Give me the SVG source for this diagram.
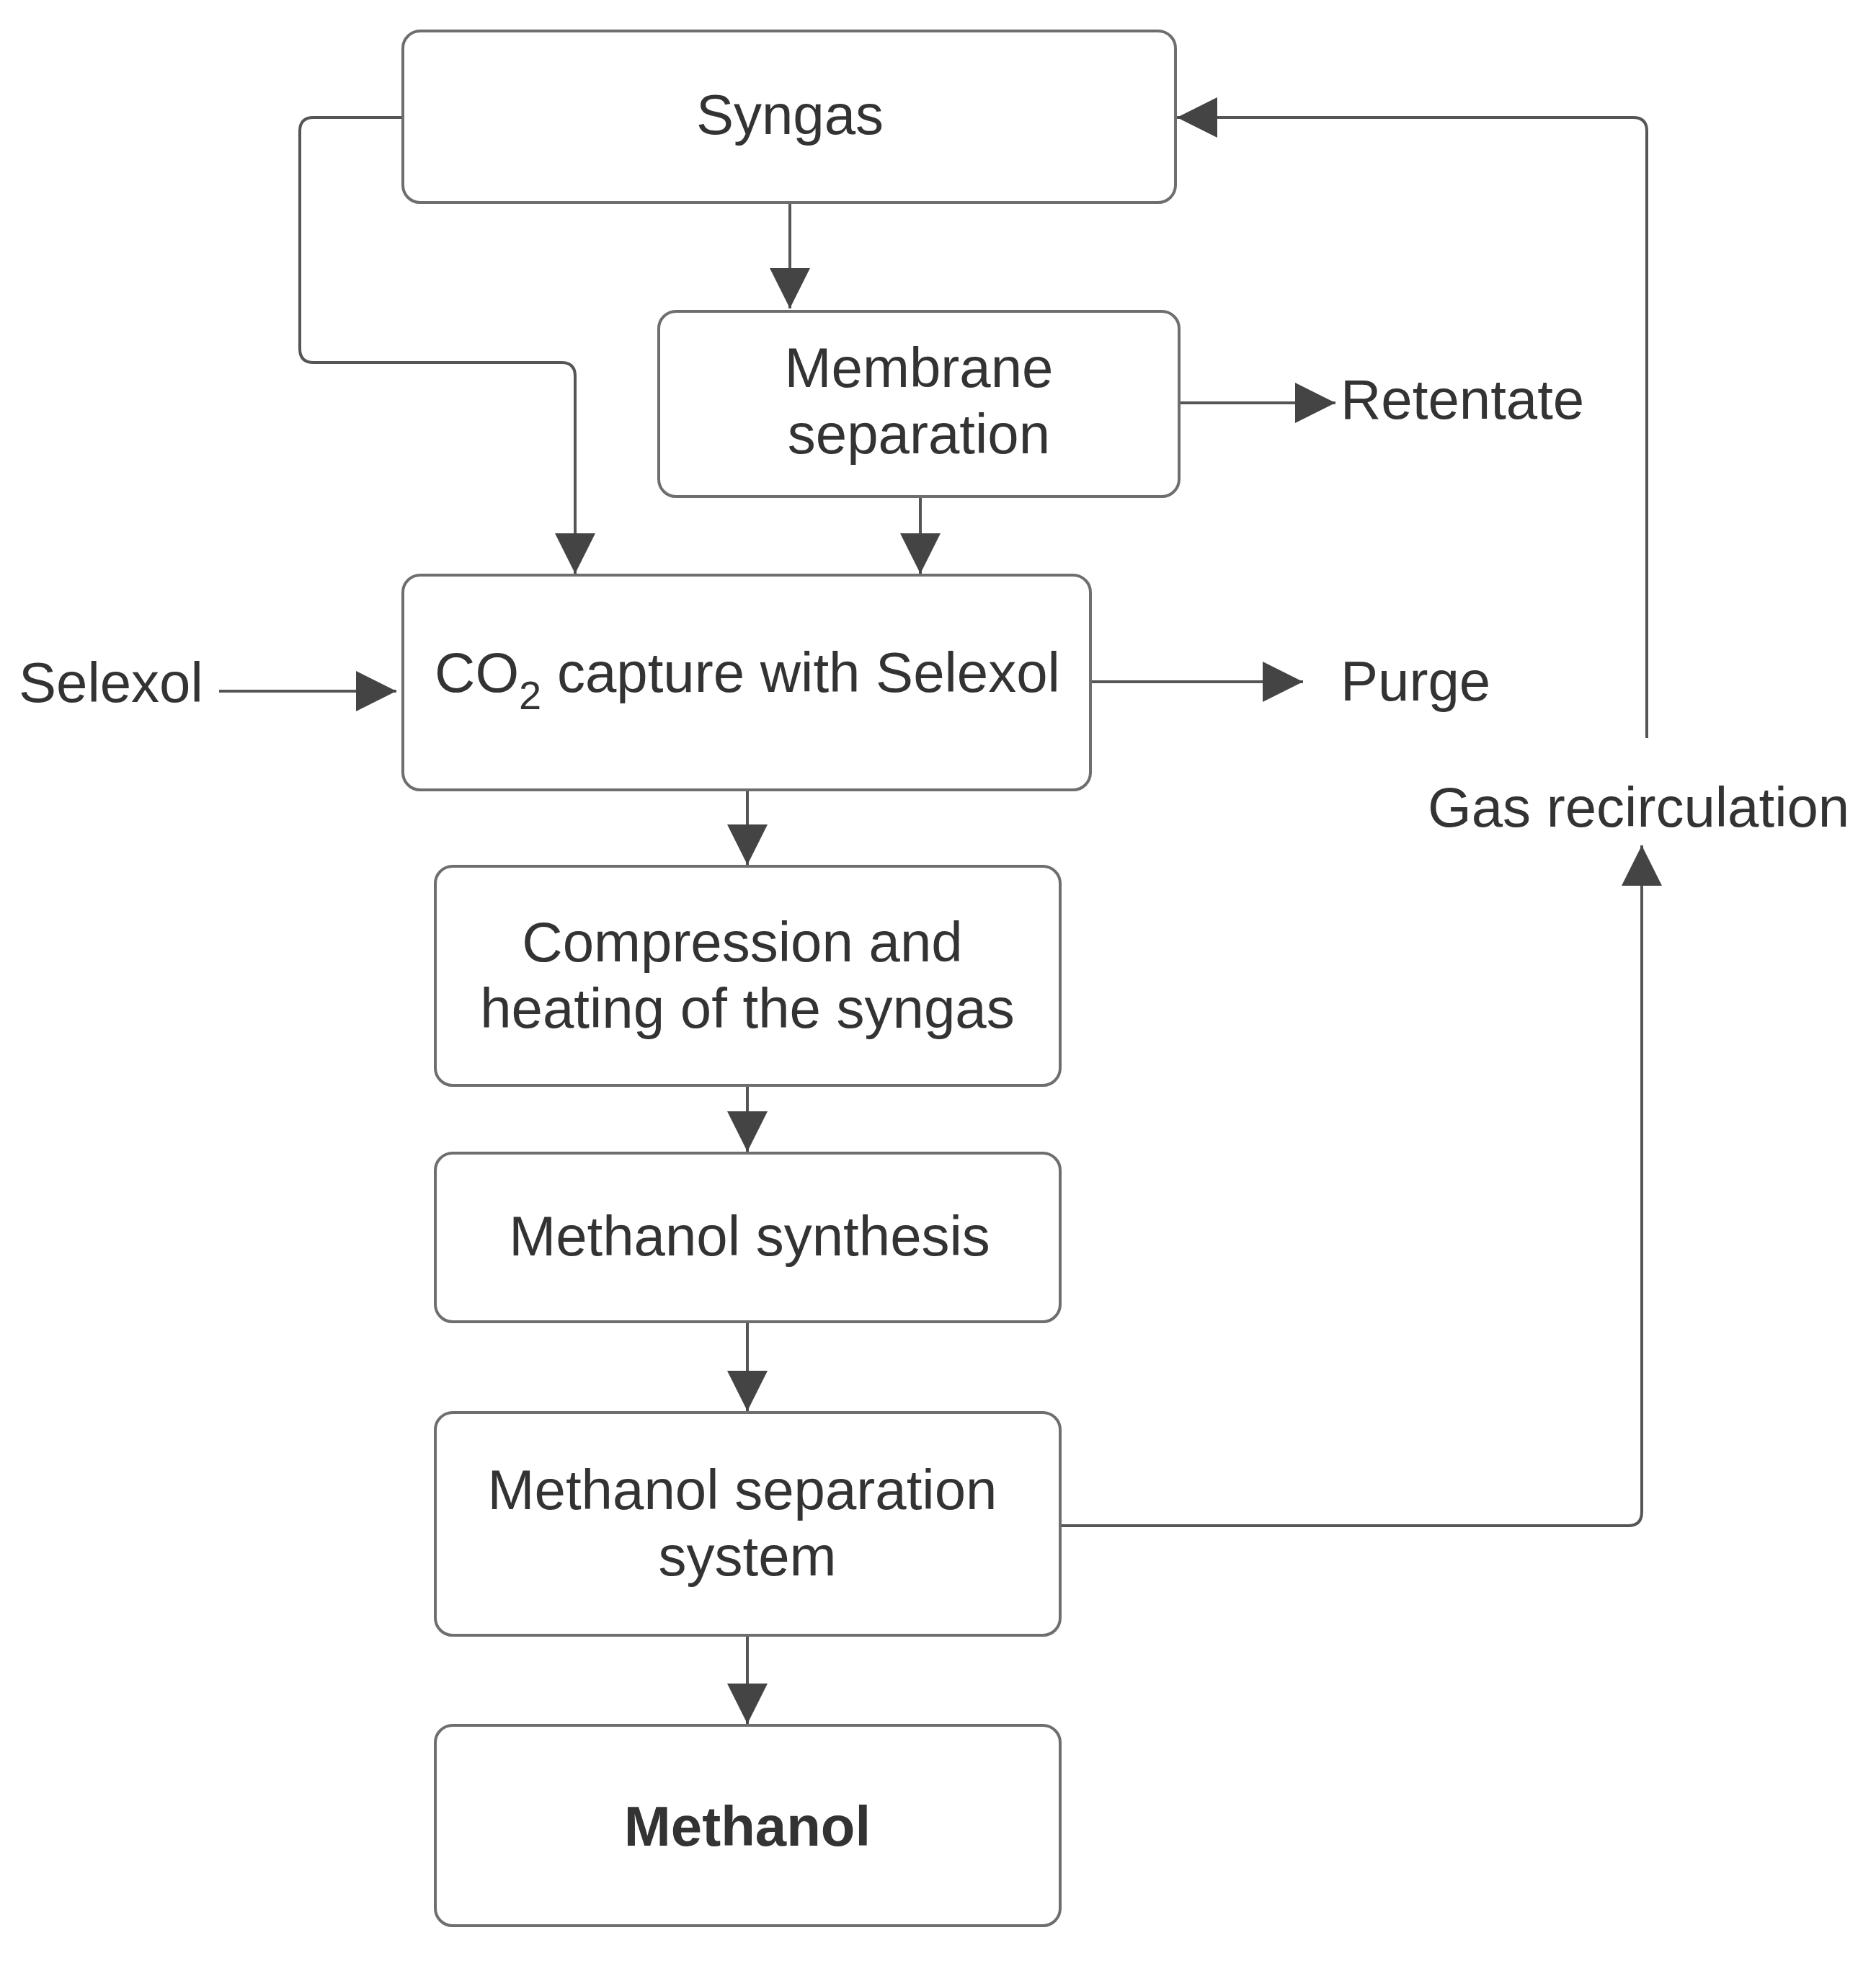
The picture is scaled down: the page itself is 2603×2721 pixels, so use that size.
<svg xmlns="http://www.w3.org/2000/svg" width="2603" height="2721" viewBox="0 0 2603 2721">
<style>
.box{fill:#fff;stroke:#6e6e6e;stroke-width:4}
.t{font-family:"Liberation Sans",Arial,sans-serif;font-size:78px;fill:#333;text-anchor:middle}
.l{text-anchor:start}
.c{fill:none;stroke:#555;stroke-width:4}
</style>
<defs><marker id="a" viewBox="0 0 10 10" refX="10" refY="5" markerWidth="13" markerHeight="13" markerUnits="userSpaceOnUse" orient="auto"><path d="M0,0L10,5L0,10Z" fill="#444"/></marker>
<marker id="b" viewBox="0 0 10 10" refX="10" refY="5" markerWidth="14" markerHeight="14" orient="auto"><path d="M0,0L10,5L0,10Z" fill="#444"/></marker></defs>
<rect width="2603" height="2721" fill="#fff"/>
<g id="connectors">
<path class="c" marker-end="url(#b)" d="M559,163H435Q416,163 416,182V484Q416,503 435,503H779Q798,503 798,522V796"/>
<path class="c" marker-end="url(#b)" d="M1096,281V428"/>
<path class="c" marker-end="url(#b)" d="M1636,559H1853"/>
<path class="c" marker-end="url(#b)" d="M1277,689V796"/>
<path class="c" marker-end="url(#b)" d="M304,959H550"/>
<path class="c" marker-end="url(#b)" d="M1513,946H1808"/>
<path class="c" marker-end="url(#b)" d="M2285,1024V182Q2285,163 2266,163H1633"/>
<path class="c" marker-end="url(#b)" d="M1471,2117H2259Q2278,2117 2278,2098V1173"/>
<path class="c" marker-end="url(#b)" d="M1037,1096V1200"/>
<path class="c" marker-end="url(#b)" d="M1037,1506V1598"/>
<path class="c" marker-end="url(#b)" d="M1037,1834V1958"/>
<path class="c" marker-end="url(#b)" d="M1037,2269V2392"/>
</g>
<g id="syngas"><rect class="box" x="559" y="43" width="1072" height="238" rx="24"/><text class="t" x="1096" y="186">Syngas</text></g>
<g id="membrane"><rect class="box" x="914" y="432" width="722" height="257" rx="24"/><text class="t" x="1275" y="537">Membrane</text><text class="t" x="1275" y="629">separation</text></g>
<g id="retentate"><text class="t l" x="1860" y="581">Retentate</text></g>
<g id="co2"><rect class="box" x="559" y="798" width="954" height="298" rx="24"/><text class="t" x="1037" y="960">CO<tspan font-size="56" dy="24">2</tspan><tspan dy="-24"> capture with Selexol</tspan></text></g>
<g id="selexol"><text class="t l" x="26" y="974">Selexol</text></g>
<g id="purge"><text class="t l" x="1860" y="972">Purge</text></g>
<g id="gasrec"><text class="t l" x="1981" y="1147">Gas recirculation</text></g>
<g id="compression"><rect class="box" x="604" y="1202" width="867" height="304" rx="24"/><text class="t" x="1030" y="1334">Compression and</text><text class="t" x="1037" y="1426">heating of the syngas</text></g>
<g id="synthesis"><rect class="box" x="604" y="1600" width="867" height="234" rx="24"/><text class="t" x="1040" y="1742">Methanol synthesis</text></g>
<g id="separation"><rect class="box" x="604" y="1960" width="867" height="309" rx="24"/><text class="t" x="1030" y="2094">Methanol separation</text><text class="t" x="1037" y="2186">system</text></g>
<g id="methanol"><rect class="box" x="604" y="2394" width="867" height="278" rx="24"/><text class="t" x="1037" y="2561" font-weight="bold" fill="#111">Methanol</text></g>
</svg>
